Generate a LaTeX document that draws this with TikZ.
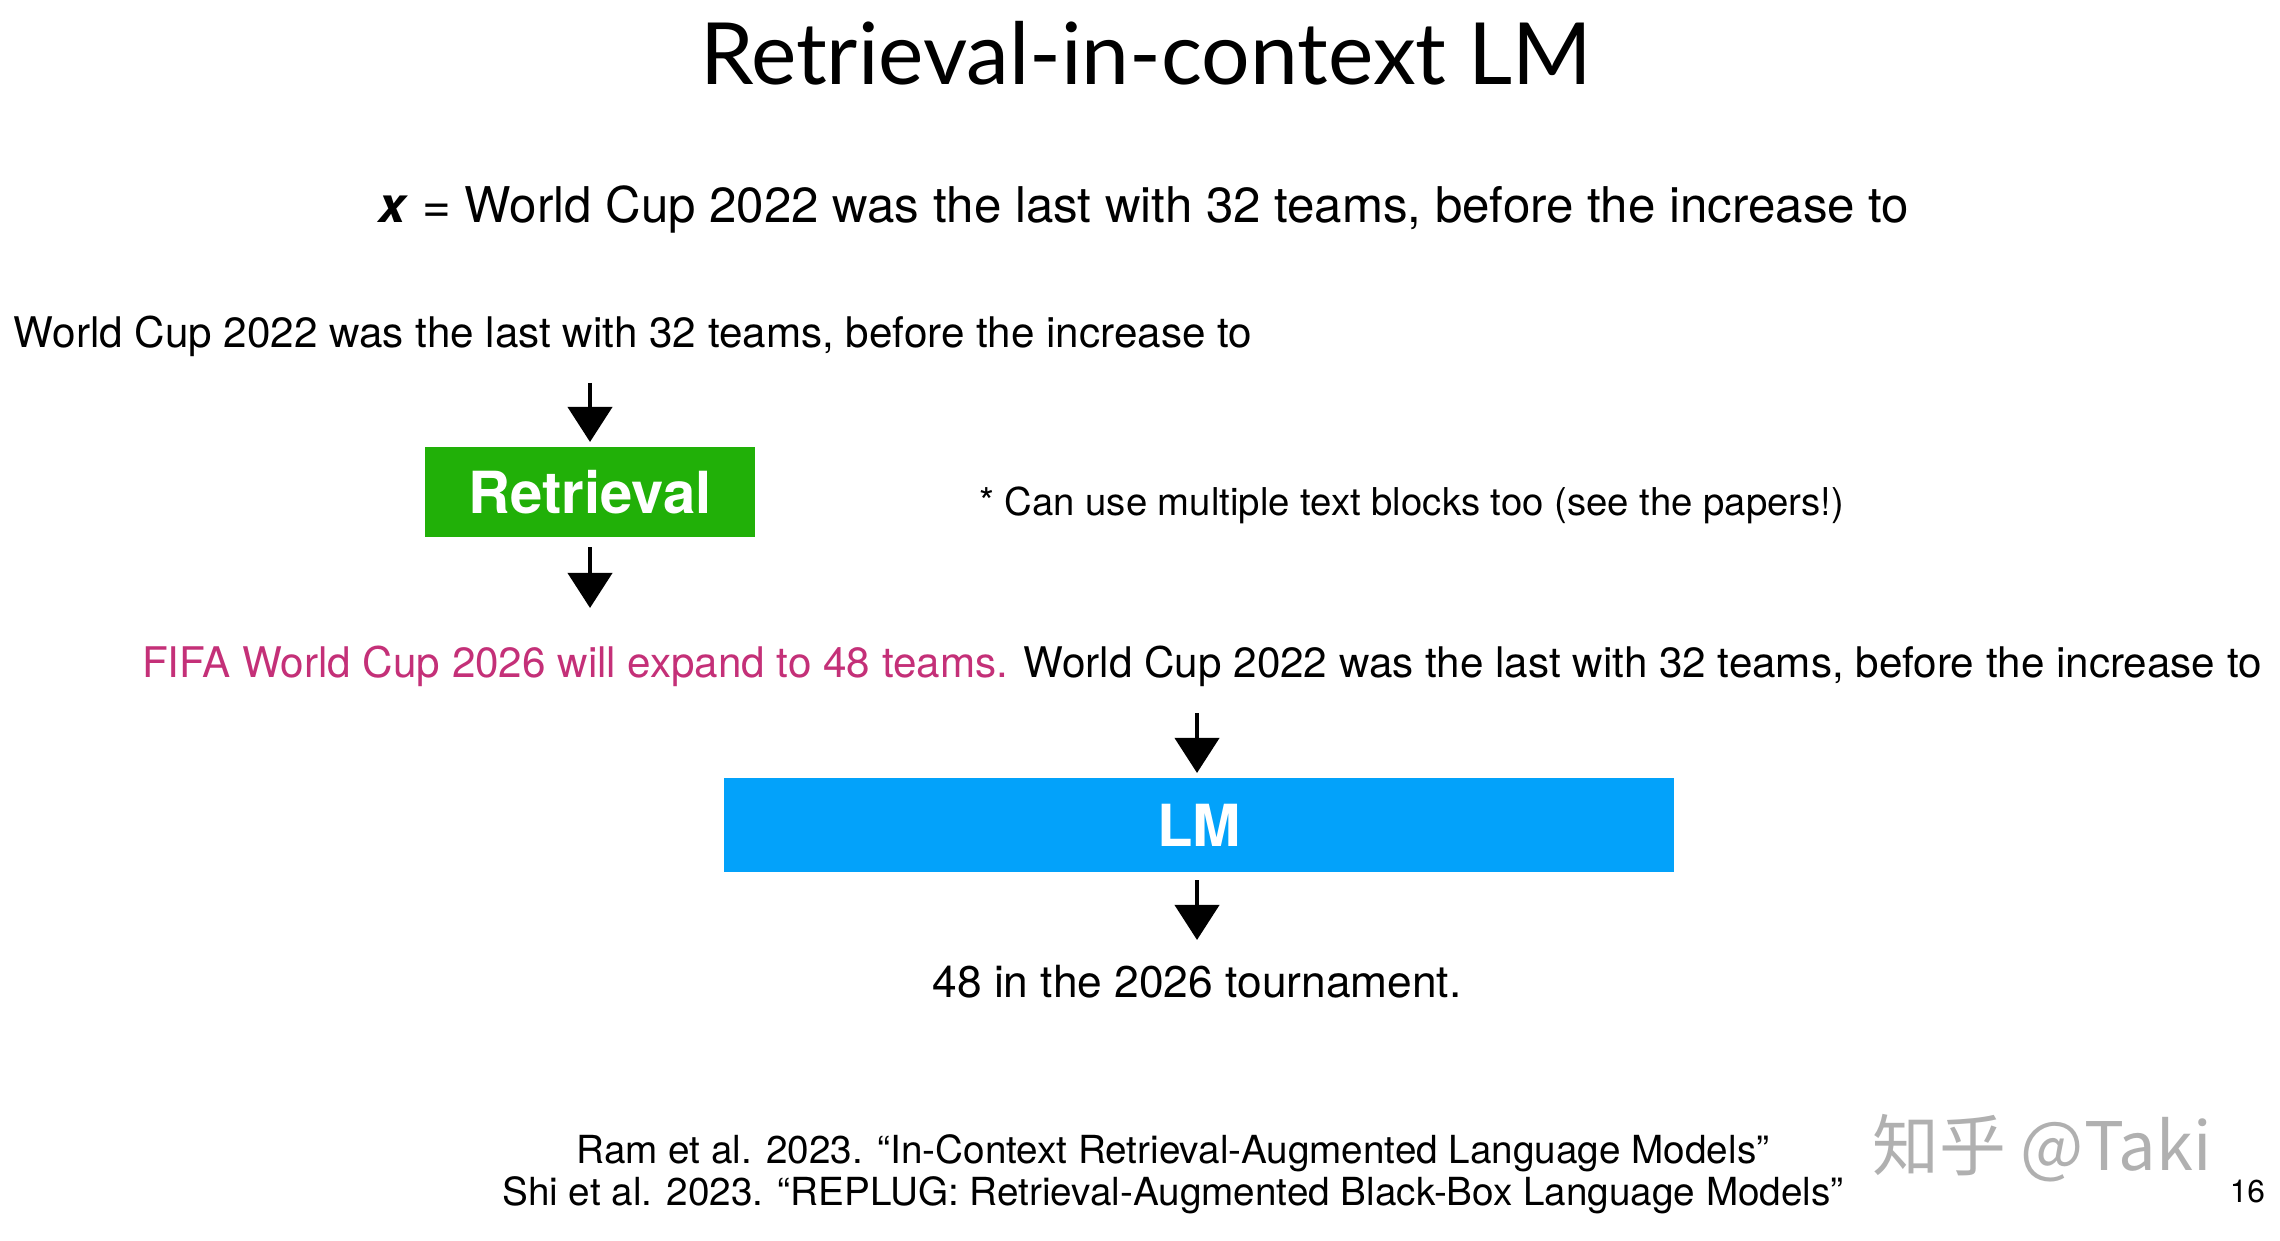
\documentclass[tikz,border=0pt]{standalone}
\usepackage{fontspec}
\setmainfont{TeX Gyre Heros}
\newfontfamily\titlefont{Lato}
\newfontfamily\cjkfont{Noto Sans CJK SC}
\usetikzlibrary{arrows.meta,calc}
\definecolor{retgreen}{RGB}{33,176,8}
\definecolor{lmblue}{RGB}{3,162,250}
\definecolor{fifapink}{RGB}{196,48,120}
\definecolor{wmgrey}{RGB}{176,176,176}
\begin{document}
\begin{tikzpicture}[x=0.01cm,y=-0.01cm,
  txt/.style={inner sep=0pt,outer sep=0pt},
  body/.style={txt,font=\fontsize{12}{14}\selectfont},
  big/.style={txt,font=\fontsize{14}{17}\selectfont},
  boxnode/.style={inner sep=0pt,outer sep=0pt,text=white,font=\bfseries\fontsize{16.5}{19}\selectfont},
  arr/.style={line width=1.4pt,-{Triangle[length=10pt,width=12.5pt]}}]
\useasboundingbox (0,0) rectangle (2280,1240);

\node[txt,anchor=base,font=\titlefont\fontsize{24.4}{29}\selectfont] (title) at (1146,85) {Retrieval-in-context LM};

\node[big,anchor=base] (xline) at (1144,223) {\textbf{\textit{x}} = World Cup 2022 was the last with 32 teams, before the increase to};

\node[body,anchor=base west] (query) at (14,348) {World Cup 2022 was the last with 32 teams, before the increase to};

\node[boxnode,fill=retgreen,minimum width=330*0.01cm,minimum height=90*0.01cm] (ret) at (590,492) {Retrieval};

\node[txt,anchor=base west,font=\fontsize{10.9}{13}\selectfont] (note) at (979,515) {* Can use multiple text blocks too (see the papers!)};

\node[body,anchor=base west] (aug) at (142,677) {\textcolor{fifapink}{FIFA World Cup 2026 will expand to 48 teams.} World Cup 2022 was the last with 32 teams, before the increase to};

\node[boxnode,fill=lmblue,minimum width=950*0.01cm,minimum height=94*0.01cm] (lm) at (1199,825) {LM};

\node[txt,anchor=base,font=\fontsize{12.6}{15}\selectfont] (out) at (1197,997) {48 in the 2026 tournament.};

\node[txt,anchor=base,font=\fontsize{11}{13}\selectfont] (ref1) at (1173,1163) {Ram et al. 2023. ``In-Context Retrieval-Augmented Language Models''};
\node[txt,anchor=base,font=\fontsize{11}{13}\selectfont] (ref2) at (1173,1205) {Shi et al. 2023. ``REPLUG: Retrieval-Augmented Black-Box Language Models''};

\node[txt,text=wmgrey,font=\cjkfont\fontsize{19}{22}\selectfont] (wm) at (2042,1148) {知乎 @Taki};

\node[txt,anchor=base east,font=\fontsize{9}{11}\selectfont] (page) at (2265,1202) {16};

\coordinate (a1s) at (590,383);
\coordinate (a2e) at (590,608);
\coordinate (a3s) at (1197,713);
\coordinate (a4e) at (1197,940);
\draw[arr] (a1s) -- ([yshift=5*0.01cm]ret.north);
\draw[arr] ([yshift=-10*0.01cm]ret.south) -- (a2e);
\draw[arr] (a3s) -- ([yshift=5*0.01cm]lm.north -| a3s);
\draw[arr] ([yshift=-8*0.01cm]lm.south -| a4e) -- (a4e);
\end{tikzpicture}
\end{document}
